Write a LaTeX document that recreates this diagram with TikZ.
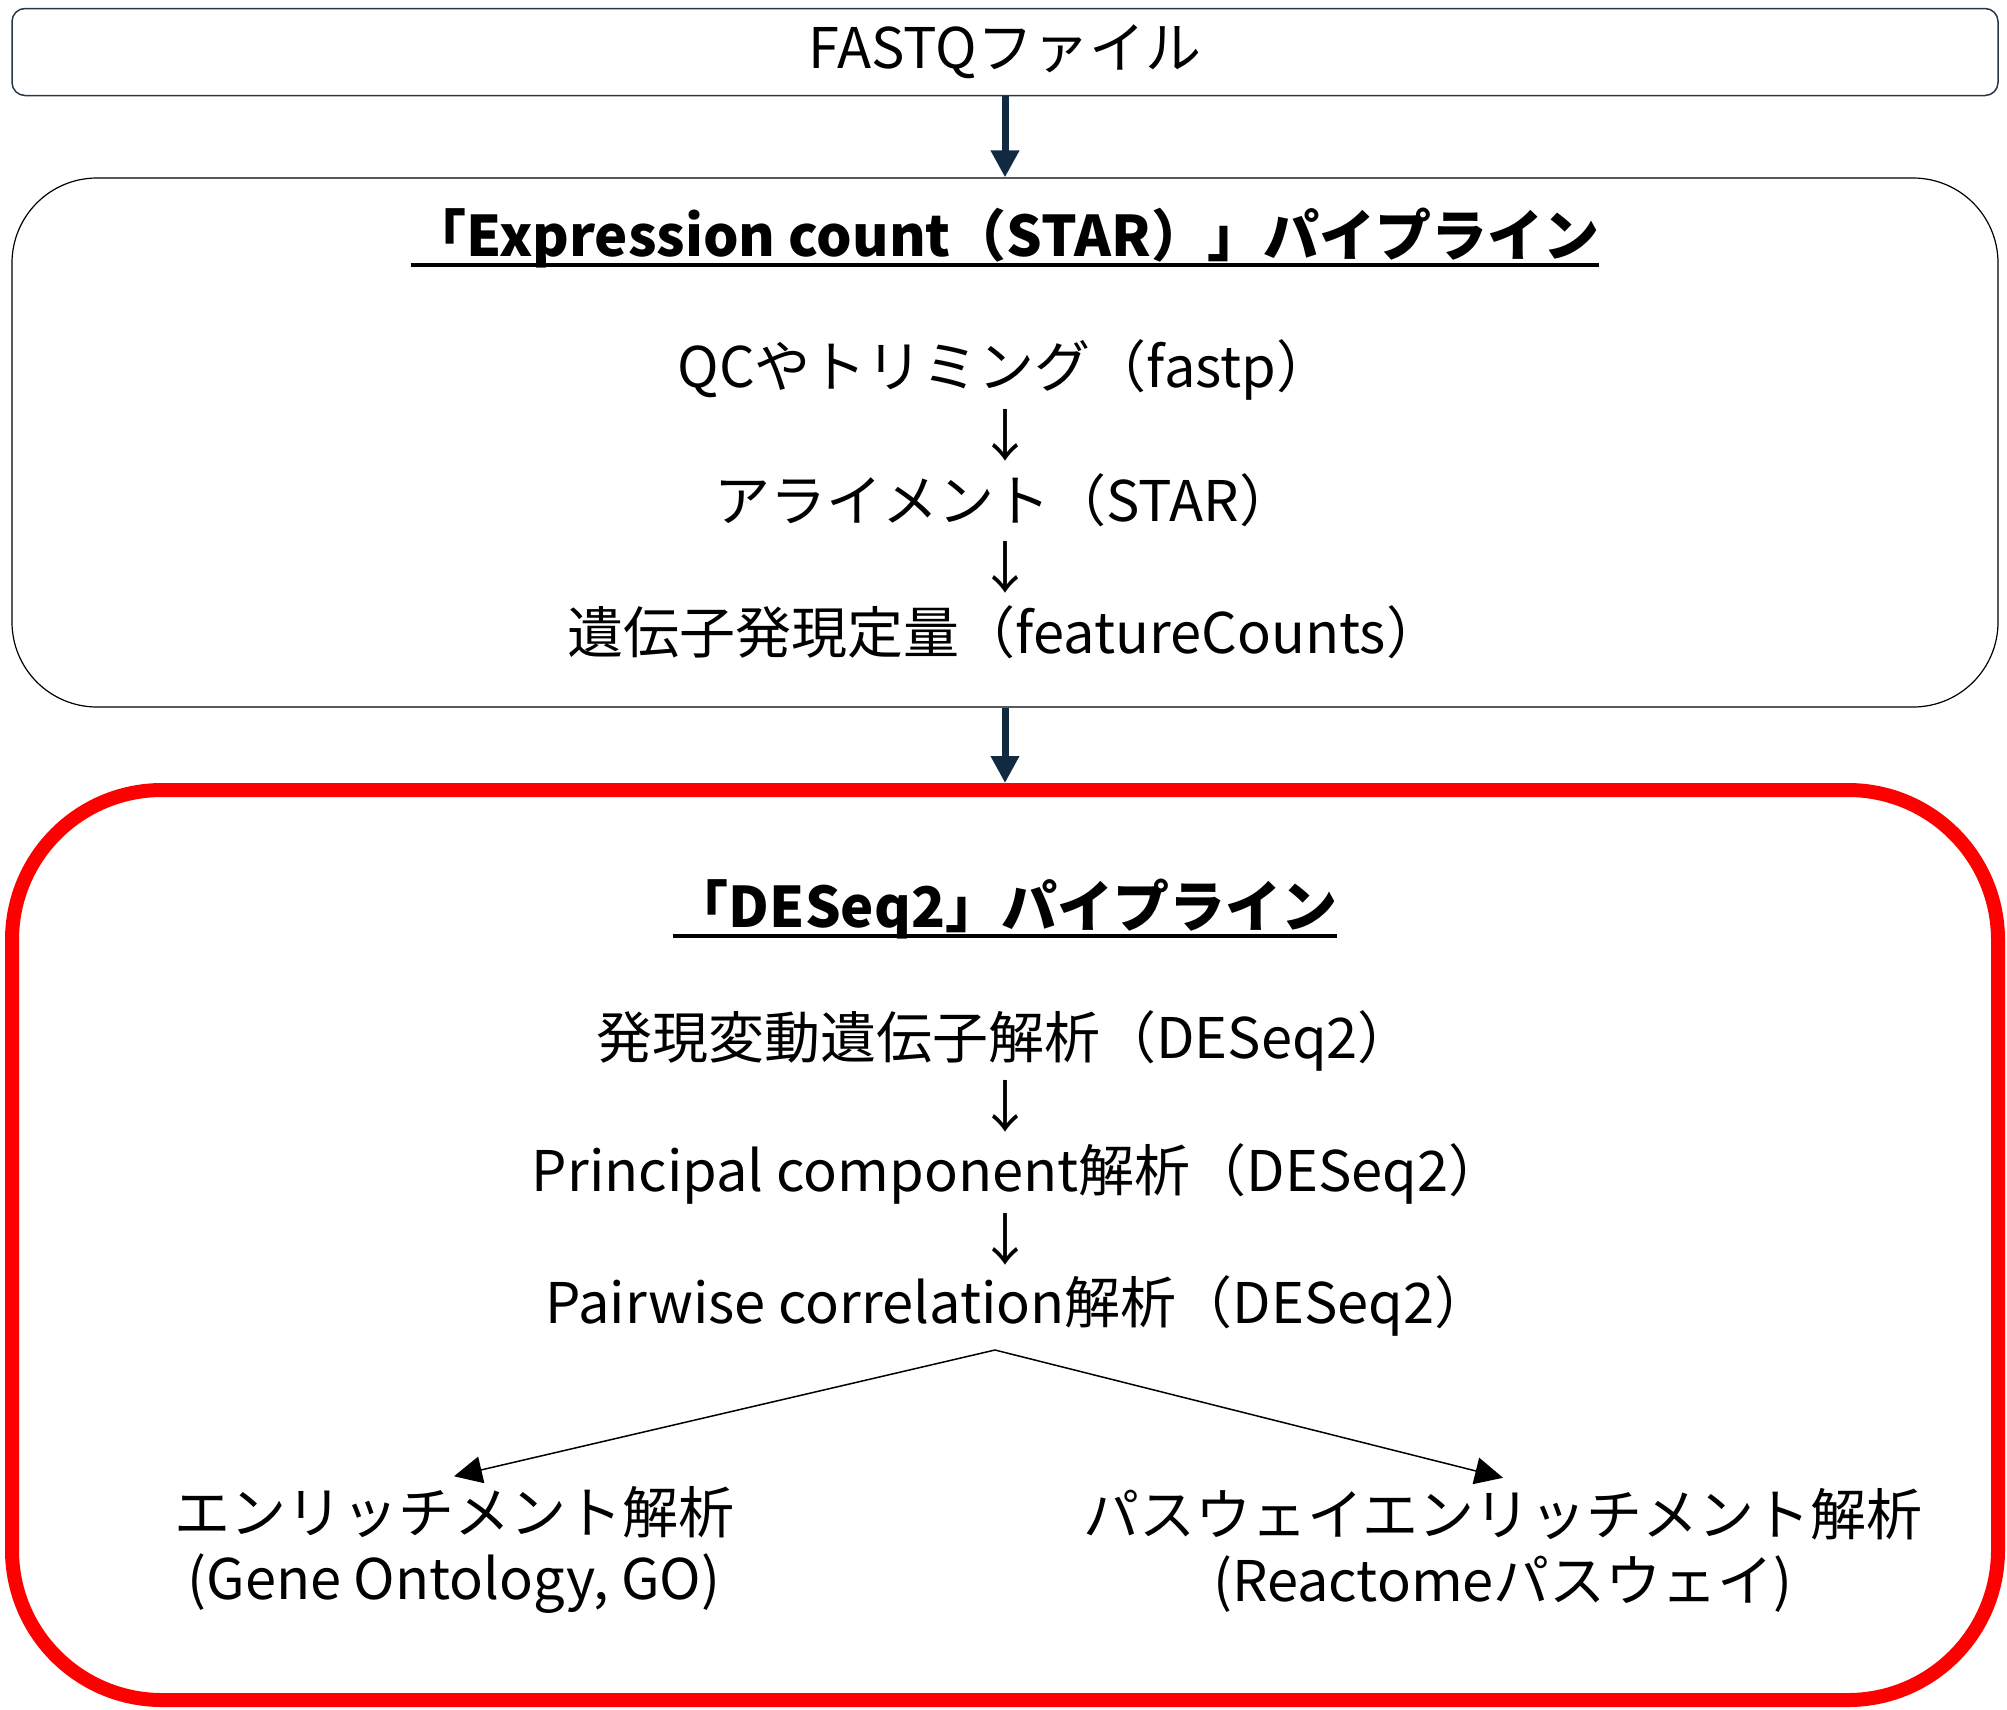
\documentclass[tikz,border=0pt]{standalone}
\usepackage{fontspec}
\setmainfont{Noto Sans CJK JP}
\usepackage{tikz}
\usetikzlibrary{arrows.meta}

\definecolor{navy}{RGB}{18,41,66}
\definecolor{boxline}{RGB}{40,55,70}

\begin{document}
\begin{tikzpicture}[x=1pt,y=-1pt,font=\fontsize{56}{66}\selectfont]
    \tikzstyle{txt}=[inner sep=0pt, align=center]
    \tikzstyle{flow}=[draw=navy, line width=7pt, -{Triangle[width=27pt,length=27pt]}]
    \tikzstyle{fork}=[draw=black, line width=1.5pt, -{Triangle[width=27pt,length=28pt]}]
    \tikzstyle{uline}=[line width=4pt]
    \useasboundingbox (0,0) rectangle (2007,1709);
    % boxes
    \node [draw=boxline, line width=1.5pt, rounded corners=13pt, minimum width=1986pt, minimum height=87pt] (fastq) at (1005,52) {FASTQファイル};
    \node [draw=black, line width=1.2pt, rounded corners=85pt, minimum width=1986pt, minimum height=529pt] (star) at (1005,442.5) {};
    \node [draw=red, line width=14pt, rounded corners=150pt, minimum width=1986pt, minimum height=910pt] (deseq) at (1005,1245) {};
    \draw [flow] (fastq) -- (star);
    \draw [flow] (star) -- (deseq);
	% Expression count
    \node [txt, font=\fontsize{56}{66}\selectfont\bfseries] (title1) at (1005,238) {「Expression count（STAR）」パイプライン};
    \draw [uline] ([yshift=-9pt]title1.base west) -- ([yshift=-9pt]title1.base east);
    \node [txt] (qc) at (1005,370) {QCやトリミング（fastp）};
    \node [txt] (d1) at (1005,435) {↓};
    \node [txt] (align) at (1005,500) {アライメント（STAR）};
    \node [txt] (d2) at (1005,567) {↓};
    \node [txt] (count) at (1005,632) {遺伝子発現定量（featureCounts）};
	% DESeq2
    \node [txt, font=\fontsize{56}{66}\selectfont\bfseries] (title2) at (1005,909) {「DESeq2」パイプライン};
    \draw [uline] ([yshift=-9pt]title2.base west) -- ([yshift=-9pt]title2.base east);
    \node [txt] (deg) at (1005,1041) {発現変動遺伝子解析（DESeq2）};
    \node [txt] (d3) at (1005,1106) {↓};
    \node [txt] (pca) at (1018,1174) {Principal component解析（DESeq2）};
    \node [txt] (d4) at (1005,1239) {↓};
    \node [txt] (pair) at (1018,1306) {Pairwise correlation解析（DESeq2）};
    \node [txt] (go) at (454,1550) {エンリッチメント解析\\(Gene Ontology, GO)};
    \node [txt] (react) at (1503,1550) {パスウェイエンリッチメント解析\\(Reactomeパスウェイ)};
    \coordinate (split) at (995,1350);
    \draw [fork] (split) -- ([yshift=10pt]go.north);
    \draw [fork] (split) -- ([yshift=10pt]react.north);
\end{tikzpicture}
\end{document}
